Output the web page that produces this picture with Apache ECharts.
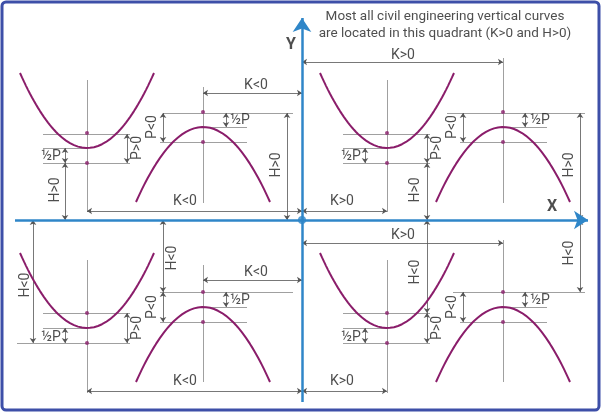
<!DOCTYPE html>
<html lang="en">
<head>
<meta charset="UTF-8">
<script src="https://cdn.jsdelivr.net/npm/echarts@6/dist/echarts.min.js"></script>
<style>html,body{margin:0;background:#fff}</style>
</head>
<body>
<div id="main" style="width:602px;height:413px;"></div>
<script type="text/javascript">
// diagram space = picture pixels, y downwards
var upVertices = [[87,148],[387,148],[87,328],[387,328]];
var downVertices = [[203,127],[503,127],[203,307],[503,307]];
var halfWidth = 67, depth = 75, halfP = 15;

// thin grey guide lines [x1,y1,x2,y2]
var guides = [
  [43,134,130,134],[43,148,87,148],[43,163,130,163],[87,80,87,212],
  [163,113,293,113],[203,127,247,127],[160,142,247,142],[203,87,203,203],
  [343,134,430,134],[343,148,387,148],[343,163,430,163],[387,80,387,212],
  [447,113,585,113],[503,127,547,127],[460,142,547,142],[503,58,503,203],
  [43,313,130,313],[43,328,87,328],[17,343,130,343],[87,260,87,393],
  [160,292,293,292],[203,307,247,307],[160,322,247,322],[203,265,203,382],
  [343,313,430,313],[343,328,387,328],[343,343,430,343],[387,260,387,393],
  [453,292,585,292],[503,307,547,307],[460,322,547,322],[503,240,503,382]
];
// dimension lines with arrows [x1,y1,x2,y2]
var dims = [
  [127,134,127,163],[65,148,65,163],[65,163,65,220],[163,113,163,142],[226,113,226,127],[203,93,302,93],[287,113,287,220],[87,211,302,211],
  [427,134,427,163],[365,148,365,163],[427,163,427,220],[463,113,463,142],[525,113,525,127],[302,62,503,62],[580,113,580,220],[302,211,387,211],
  [127,313,127,343],[65,328,65,343],[33,220,33,343],[163,292,163,322],[226,292,226,307],[203,280,302,280],[163,220,163,292],[87,391,302,391],
  [427,313,427,343],[365,328,365,343],[427,220,427,313],[463,292,463,322],[525,292,525,307],[302,243,503,243],[580,220,580,292],[302,391,387,391]
];
// labels [x,y,text,rotate]
var labels = [
  [51,156,'½P',0],[137,148,'P>0',90],[55,190,'H>0',90],[152,127,'P<0',90],[240,120,'½P',0],[256,85,'K<0',0],[276,165,'H>0',90],[185,201,'K<0',0],
  [351,156,'½P',0],[437,148,'P>0',90],[415,190,'H>0',90],[452,127,'P<0',90],[540,120,'½P',0],[403,55,'K>0',0],[569,165,'H>0',90],[342,201,'K>0',0],
  [25,285,'H<0',90],[51,337,'½P',0],[137,328,'P>0',90],[152,307,'P<0',90],[172,258,'H<0',90],[240,300,'½P',0],[256,272,'K<0',0],[185,381,'K<0',0],
  [403,235,'K>0',0],[415,272,'H<0',90],[351,337,'½P',0],[437,328,'P>0',90],[452,307,'P<0',90],[540,300,'½P',0],[569,253,'H<0',90],[342,381,'K>0',0]
];
var axisLines = [[15,220,588,220],[302,402,302,18]];
var origin = [302,220];
var noteLines = ['Most all civil engineering vertical curves','are located in this quadrant (K>0 and H>0)'];

function parabola(v, sign) {
  var pts = [];
  for (var dx = -halfWidth; dx <= halfWidth; dx += 2) {
    var t = dx / halfWidth;
    pts.push([v[0] + dx, v[1] - sign * depth * t * t]);
  }
  return pts;
}

var curveSeries = [];
upVertices.forEach(function (v) { curveSeries.push(parabola(v, 1)); });
downVertices.forEach(function (v) { curveSeries.push(parabola(v, -1)); });

var dots = [];
upVertices.concat(downVertices).forEach(function (v) {
  dots.push([v[0], v[1] - halfP], [v[0], v[1] + halfP]);
});

function seg(a) { return { coords: [[a[0], a[1]], [a[2], a[3]]] }; }

var series = [
  { type: 'lines', coordinateSystem: 'cartesian2d', silent: true, z: 1,
    lineStyle: { color: '#a0a0a0', width: 1, opacity: 1 }, data: guides.map(seg) },
  { type: 'lines', coordinateSystem: 'cartesian2d', silent: true, z: 2,
    symbol: ['arrow', 'arrow'], symbolSize: 5,
    lineStyle: { color: '#555', width: 0.8, opacity: 1 }, data: dims.map(seg) }
];
curveSeries.forEach(function (pts) {
  series.push({ type: 'line', data: pts, showSymbol: false, smooth: false, z: 3,
    lineStyle: { color: '#8a1d6a', width: 2 } });
});
series.push({ type: 'scatter', data: dots, symbolSize: 4, z: 4, itemStyle: { color: '#8a1d6a' } });
series.push({ type: 'lines', coordinateSystem: 'cartesian2d', silent: true, z: 5,
  symbol: ['none', 'arrow'], symbolSize: [9, 14],
  lineStyle: { color: '#2f86c8', width: 2.5, opacity: 1 }, data: axisLines.map(seg) });
series.push({ type: 'scatter', data: [origin], symbolSize: 8, z: 6, itemStyle: { color: '#2f86c8' } });
series.push({ type: 'scatter', symbolSize: 0, z: 7,
  data: labels.map(function (l) {
    return { value: [l[0], l[1]], label: { show: true, position: 'inside', formatter: l[2], rotate: l[3],
      color: '#222', fontSize: 14, fontFamily: 'Roboto' } };
  }).concat([
    { value: [291, 45], label: { show: true, position: 'inside', formatter: 'Y', color: '#222', fontSize: 16, fontWeight: 'bold', fontFamily: 'Roboto' } },
    { value: [552, 207], label: { show: true, position: 'inside', formatter: 'X', color: '#222', fontSize: 16, fontWeight: 'bold', fontFamily: 'Roboto' } },
    { value: [445, 17], label: { show: true, position: 'inside', formatter: noteLines[0], color: '#222', fontSize: 13.5, fontFamily: 'Roboto' } },
    { value: [445, 34], label: { show: true, position: 'inside', formatter: noteLines[1], color: '#222', fontSize: 13.5, fontFamily: 'Roboto' } }
  ])
});

var myChart = echarts.init(document.getElementById('main'));
myChart.setOption({
  animation: false,
  grid: { left: 0, right: 0, top: 0, bottom: 0 },
  xAxis: { type: 'value', min: 0, max: 602, show: false },
  yAxis: { type: 'value', min: 0, max: 413, inverse: true, show: false },
  graphic: [{ type: 'rect', shape: { x: 2, y: 2, width: 597, height: 408, r: 4 },
    style: { fill: 'none', stroke: '#3d4fa8', lineWidth: 3 }, z: 100 }],
  series: series
});
</script>
</body>
</html>
